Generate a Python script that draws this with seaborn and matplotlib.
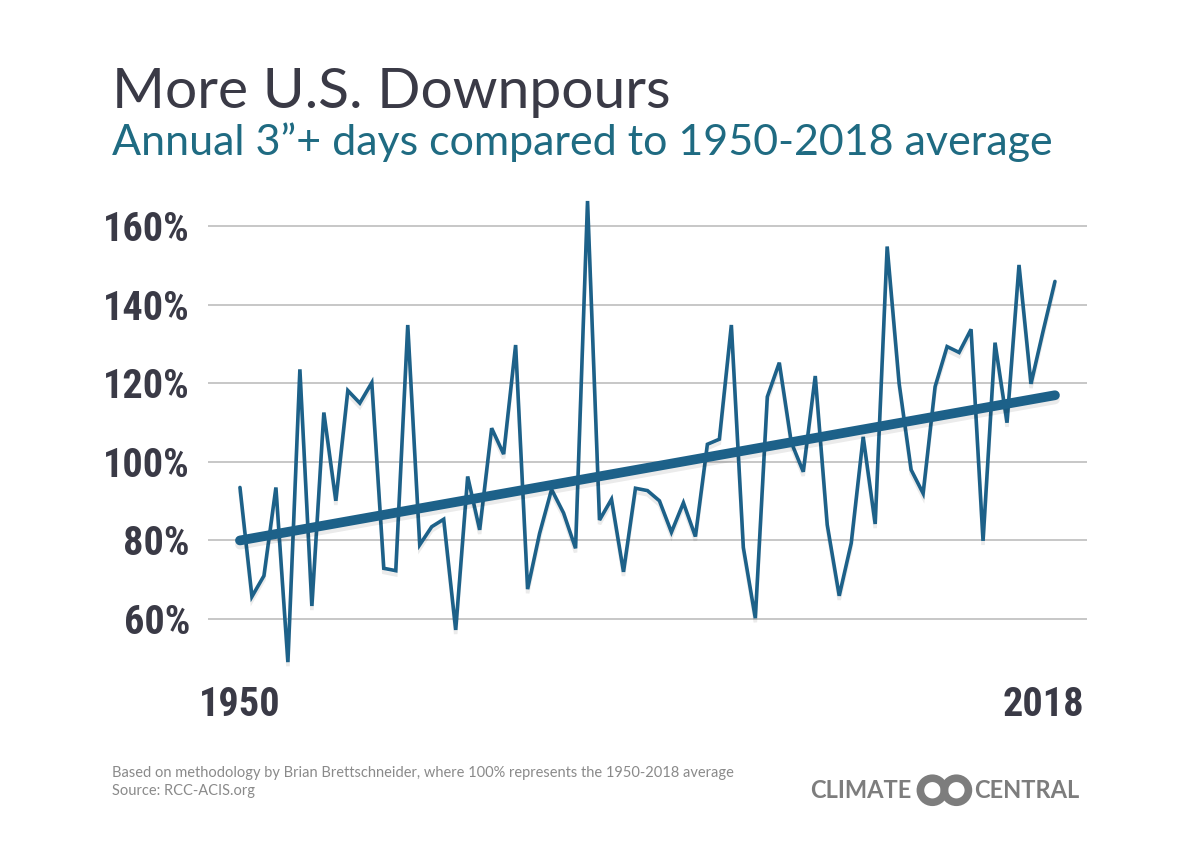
import numpy as np
import pandas as pd
import matplotlib
matplotlib.use("Agg")
import matplotlib.pyplot as plt
import matplotlib.transforms as mtransforms
import matplotlib.patheffects as pe
from matplotlib import font_manager
from matplotlib.patches import Circle
import seaborn as sns

# data (% of 1950-2018 average)
years = list(range(1950, 2019))
pct = [93.5, 65.7, 71.0, 93.5, 49.0, 123.6, 63.3, 112.6, 90.1, 118.2,
       115.0, 120.2, 72.9, 72.3, 134.9, 78.9, 83.5, 85.4, 57.2, 96.3,
       82.7, 108.6, 102.0, 129.8, 67.6, 81.8, 93.0, 87.0, 78.0, 166.5,
       85.2, 90.5, 72.0, 93.3, 92.7, 90.1, 82.1, 89.6, 81.0, 104.5,
       105.8, 134.9, 78.2, 60.2, 116.6, 125.3, 105.0, 97.5, 121.9, 84.0,
       65.9, 79.3, 106.4, 84.2, 154.9, 120.0, 98.0, 92.0, 119.2, 129.4,
       127.9, 133.8, 79.9, 130.4, 110.0, 150.2, 119.9, 133.2, 146.0]
trend_years = [1950, 2018]
trend_pct = [80.0, 117.0]
y_ticks = [60, 80, 100, 120, 140, 160]
x_ticks = [1950, 2018]

title = "More U.S. Downpours"
subtitle = "Annual 3\u201d+ days compared to 1950-2018 average"
note = "Based on methodology by Brian Brettschneider, where 100% represents the 1950-2018 average"
source = "Source: RCC-ACIS.org"

df = pd.DataFrame({"year": years, "pct": pct})
trend = pd.DataFrame({"year": trend_years, "pct": trend_pct})

line_color = "#1d6189"
dark = "#3a3a46"
teal = "#1f6b82"
gray = "#8a8a8a"

# pick a narrow bold face for the big tick labels if one is installed
names = {f.name for f in font_manager.fontManager.ttflist}
narrow_face = None
for cand in ["Roboto Condensed", "Liberation Sans Narrow", "Open Sans Condensed", "Noto Sans Condensed"]:
    if cand in names:
        narrow_face = cand
        break
if narrow_face:
    tick_family, tick_size = [narrow_face, "DejaVu Sans"], 29
else:
    tick_family, tick_size = ["Roboto", "DejaVu Sans"], 26

sns.set_style("white")
plt.rcParams["font.family"] = ["Lato", "DejaVu Sans"]

fig = plt.figure(figsize=(12, 8.47), dpi=100)
ax = fig.add_axes([0.1733, 0.1972, 0.7325, 0.5785])

shadow = [pe.SimpleLineShadow(offset=(0, -3), alpha=0.08, rho=0.9), pe.Normal()]
sns.lineplot(data=df, x="year", y="pct", ax=ax, color=line_color,
             linewidth=2.6, solid_joinstyle="miter", path_effects=shadow, zorder=3)
sns.lineplot(data=trend, x="year", y="pct", ax=ax, color=line_color,
             linewidth=7, solid_capstyle="round", path_effects=shadow, zorder=4)

ax.set_xlim(1947.33, 2020.67)
ax.set_ylim(44.45, 169.3)
ax.set_yticks(y_ticks)
ax.set_yticklabels([f"{v}%" for v in y_ticks])
ax.set_xticks(x_ticks)
ax.set_xticklabels([str(v) for v in x_ticks])
ax.grid(axis="y", color="#bdbdbd", linewidth=1.2)
ax.grid(axis="x", visible=False)
ax.set_axisbelow(True)
sns.despine(ax=ax, left=True, bottom=True)
ax.set_xlabel("")
ax.set_ylabel("")
ax.tick_params(length=0)
ax.tick_params(axis="y", pad=13)
ax.tick_params(axis="x", pad=4)
for lab in ax.get_yticklabels() + ax.get_xticklabels():
    lab.set_family(tick_family)
    lab.set_fontweight("bold")
    lab.set_fontsize(tick_size)
    lab.set_color(dark)
last = ax.get_xticklabels()[-1]
last.set_transform(last.get_transform() + mtransforms.ScaledTranslation(-0.12, 0, fig.dpi_scale_trans))

fig.text(0.093, 0.873, title, fontsize=41, color=dark, va="baseline")
fig.text(0.093, 0.817, subtitle, fontsize=31, color=teal, va="baseline")
fig.text(0.093, 0.083, note, fontsize=10.5, color=gray, va="baseline")
fig.text(0.093, 0.061, source, fontsize=10.5, color=gray, va="baseline")

# logo
fig.text(0.675, 0.058, "CLIMATE", fontsize=17, color="#7d7d7d", fontweight="bold", va="baseline")
fig.text(0.812, 0.058, "CENTRAL", fontsize=17, color="#7d7d7d", fontweight="bold", va="baseline")
for cx in (0.777, 0.797):
    fig.add_artist(Circle((cx * 1200, 0.067 * 847), 12, transform=None,
                          fill=False, edgecolor="#7d7d7d", linewidth=5.5))

fig.savefig("out.png", dpi=100, facecolor="white")
